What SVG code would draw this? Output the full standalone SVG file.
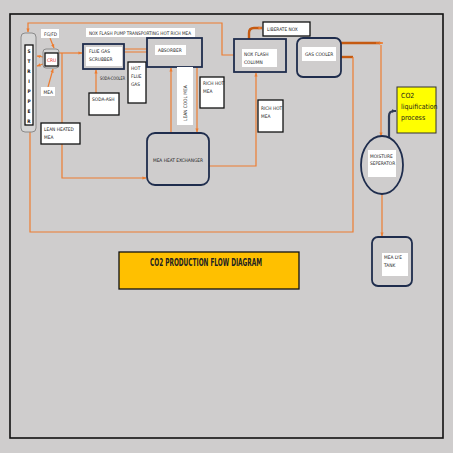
<svg xmlns="http://www.w3.org/2000/svg" width="453" height="453" viewBox="0 0 453 453">
<defs>
<style>
.t{font-family:"Liberation Sans Narrow","DejaVu Sans Condensed","Liberation Sans",sans-serif;font-size:4.8px;fill:#1a1a1a}
.eq{fill:#cfcdcd;stroke:#1f2d4d;stroke-width:1.8}
.lbl{fill:#fff;stroke:none}
.wb{fill:#fff;stroke:#111;stroke-width:1.3}
.c{fill:none;stroke:#ed7d31;stroke-width:1.2}
.ct{fill:none;stroke:#c55a11;stroke-width:2.4}
</style>
<marker id="ah" viewBox="0 0 10 10" refX="9" refY="5" markerWidth="4" markerHeight="4" orient="auto" markerUnits="userSpaceOnUse"><path d="M0,1 L10,5 L0,9 z" fill="#ed7d31"/></marker>
<marker id="ahn" viewBox="0 0 10 10" refX="9" refY="5" markerWidth="5" markerHeight="5" orient="auto" markerUnits="userSpaceOnUse"><path d="M0,1 L10,5 L0,9 z" fill="#2f3b55"/></marker>
</defs>
<rect width="453" height="453" fill="#cfcdcd"/>
<rect x="10" y="14" width="433" height="424" fill="#cfcdcd" stroke="#111" stroke-width="1.6"/>

<g id="connectors">
<path class="c" d="M235,55 H222 V23 H28 V32" marker-end="url(#ah)"/>
<path class="c" d="M59,53 H82" marker-end="url(#ah)"/>
<path class="c" d="M62,53 V178 H146" marker-end="url(#ah)"/>
<path class="c" d="M43,57 L37,56" marker-end="url(#ah)"/>
<path class="c" d="M43,64 L37,66" marker-end="url(#ah)"/>
<path class="c" d="M50,38 L54,48" marker-end="url(#ah)"/>
<path class="c" d="M48,87 L53,69" marker-end="url(#ah)"/>
<path class="c" d="M96,93 V70" marker-end="url(#ah)"/>
<path class="c" stroke="#c55a11" stroke-width="1.6" d="M124,49 H147 M124,52 H147"/>
<path class="c" d="M171,133 V68" marker-end="url(#ah)"/>
<path class="c" d="M197,67 V132" marker-end="url(#ah)"/>
<path class="c" d="M209,166 H256 V73" marker-end="url(#ah)"/>
<path class="ct" d="M249,39 V33 Q249,28 254,28 H262" marker-end="url(#ah)"/>
<path class="ct" d="M341,43 H380"/>
<path class="c" d="M376,43 H383" marker-end="url(#ah)" stroke-width="2.4"/>
<path class="c" d="M381,45 V136" marker-end="url(#ah)"/>
<path class="ct" d="M341,57 H353"/>
<path class="c" d="M353,57 V232 H30 V132"/>
<path class="c" d="M382,194 V236" marker-end="url(#ah)"/>
<path fill="none" stroke="#2f3b55" stroke-width="2.2" d="M389,138 V116 Q389,111 394,111 H396" marker-end="url(#ahn)"/>
</g>

<g id="stripper">
<rect x="21" y="33" width="15" height="99" rx="4" fill="#d6d6d6" stroke="#8a8a8a" stroke-width="1"/>
<rect x="25" y="45" width="8" height="80" class="wb"/>
<g class="t" text-anchor="middle" font-weight="bold">
<text x="29" y="53">S</text><text x="29" y="63">T</text><text x="29" y="73">R</text><text x="29" y="83">I</text>
<text x="29" y="93">P</text><text x="29" y="103">P</text><text x="29" y="113">E</text><text x="29" y="123">R</text>
</g>
</g>

<g id="fgfd">
<rect x="41" y="29" width="18" height="9" class="lbl"/>
<text class="t" x="44" y="35.5">FG/FD</text>
</g>

<g id="cru">
<rect x="43" y="49" width="16" height="19" rx="3" fill="#d6d6d6" stroke="#8a8a8a" stroke-width="1"/>
<rect x="45" y="53" width="13" height="13" class="wb" stroke-width="1.6"/>
<text class="t" x="51.5" y="61.5" text-anchor="middle" style="fill:#e02020">CRU</text>
</g>

<g id="mea">
<rect x="41" y="87" width="14" height="9" class="lbl"/>
<text class="t" x="43.5" y="93.5">MEA</text>
</g>

<g id="lean-heated-mea">
<rect x="41" y="123" width="39" height="21" class="wb"/>
<text class="t" x="44" y="131">LEAN HEATED</text>
<text class="t" x="44" y="139">MEA</text>
</g>

<g id="flue-gas-scrubber">
<rect x="83" y="44" width="41" height="25" class="eq"/>
<rect x="86" y="47" width="36" height="19" class="lbl"/>
<text class="t" x="89" y="53">FLUE GAS</text>
<text class="t" x="89" y="61">SCRUBBER</text>
</g>

<g id="soda-cooler">
<text class="t" x="100" y="80" textLength="25" lengthAdjust="spacingAndGlyphs">SODA-COOLER</text>
</g>

<g id="soda-ash">
<rect x="89" y="93" width="30" height="22" class="wb"/>
<text class="t" x="92" y="101">SODA-ASH</text>
</g>

<g id="hot-flue-gas">
<rect x="128" y="62" width="18" height="41" class="wb"/>
<text class="t" x="131" y="70">HOT</text>
<text class="t" x="131" y="78">FLUE</text>
<text class="t" x="131" y="86">GAS</text>
</g>

<g id="nox-pump-label">
<rect x="86" y="28" width="109" height="9" class="lbl"/>
<text class="t" x="89" y="34.5" textLength="102" lengthAdjust="spacingAndGlyphs">NOX FLASH PUMP TRANSPORTING HOT RICH MEA</text>
</g>

<g id="absorber">
<rect x="147" y="38" width="55" height="29" class="eq"/>
<rect x="155" y="45" width="31" height="10" class="lbl"/>
<text class="t" x="158" y="51.5">ABSORBER</text>
</g>

<g id="lean-cool-mea">
<rect x="177" y="67" width="16" height="58" class="lbl"/>
<text class="t" transform="translate(187,121) rotate(-90)">LEAN COOL MEA</text>
</g>

<g id="rich-hot-mea-1">
<rect x="200" y="77" width="24" height="31" class="wb"/>
<text class="t" x="203" y="85">RICH HOT</text>
<text class="t" x="203" y="93">MEA</text>
</g>

<g id="mea-heat-exchanger">
<rect x="147" y="133" width="62" height="52" rx="8" class="eq"/>
<text class="t" x="178" y="162" text-anchor="middle">MEA HEAT EXCHANGER</text>
</g>

<g id="nox-flash-column">
<rect x="234" y="39" width="52" height="33" class="eq"/>
<rect x="242" y="49" width="35" height="18" class="lbl"/>
<text class="t" x="244" y="56">NOX FLASH</text>
<text class="t" x="244" y="64">COLUMN</text>
</g>

<g id="liberate-nox">
<rect x="263" y="22" width="47" height="14" class="wb"/>
<text class="t" x="267" y="30.5">LIBERATE NOX</text>
</g>

<g id="rich-hot-mea-2">
<rect x="258" y="100" width="25" height="32" class="wb"/>
<text class="t" x="261" y="110">RICH HOT</text>
<text class="t" x="261" y="118">MEA</text>
</g>

<g id="gas-cooler">
<rect x="297" y="38" width="44" height="39" rx="6" class="eq"/>
<rect x="302" y="47" width="34" height="14" class="lbl"/>
<text class="t" x="305" y="55.5">GAS COOLER</text>
</g>

<g id="co2-liquification">
<rect x="397" y="87" width="39" height="46" fill="#ffff00" stroke="#333" stroke-width="1"/>
<g class="t" style="font-size:7px">
<text x="401" y="98">CO2</text>
<text x="401" y="109">liquification</text>
<text x="401" y="120">process</text>
</g>
</g>

<g id="moisture-separator">
<ellipse cx="382" cy="165" rx="21" ry="29" class="eq"/>
<rect x="368" y="150" width="28" height="27" class="lbl"/>
<text class="t" x="370" y="158">MOISTURE</text>
<text class="t" x="370" y="165">SEPERATOR</text>
</g>

<g id="mea-lye-tank">
<rect x="372" y="237" width="40" height="49" rx="6" class="eq"/>
<rect x="382" y="253" width="26" height="23" class="lbl"/>
<text class="t" x="384" y="259">MEA LYE</text>
<text class="t" x="384" y="267">TANK</text>
</g>

<g id="title">
<rect x="119" y="252" width="180" height="37" fill="#ffc000" stroke="#111" stroke-width="1.3"/>
<text x="206" y="266" text-anchor="middle" font-family="Liberation Sans Narrow, DejaVu Sans Condensed, Liberation Sans, sans-serif" font-weight="bold" font-size="10" fill="#222" textLength="112" lengthAdjust="spacingAndGlyphs">CO2 PRODUCTION FLOW DIAGRAM</text>
</g>
</svg>
